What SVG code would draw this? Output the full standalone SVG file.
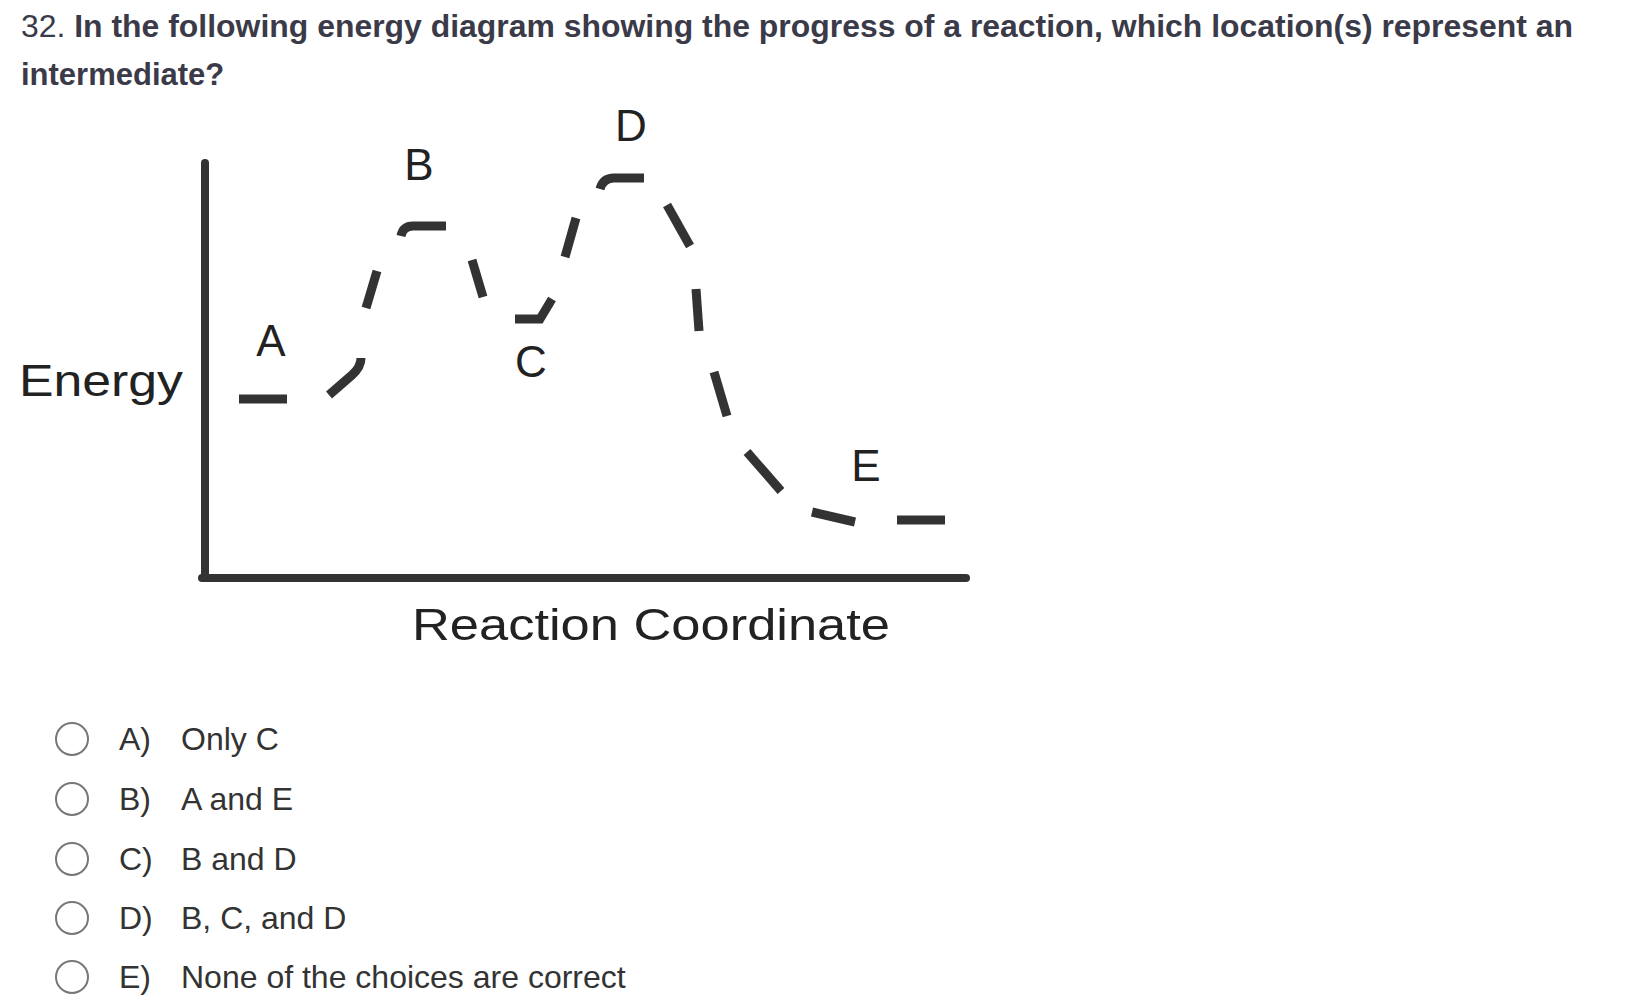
<svg xmlns="http://www.w3.org/2000/svg" width="1646" height="1002" viewBox="0 0 1646 1002">
<style>
.t{font-family:"Liberation Sans",Arial,sans-serif;fill:#333}
.q{font-size:31px;font-weight:bold;fill:#3a3a48}
.lab{font-size:44px;fill:#222}
.opt{font-size:32px}
.d{fill:none;stroke:#333;stroke-width:9;stroke-linecap:butt}
.c{fill:#fff;stroke:#777;stroke-width:2}
</style>
<rect width="1646" height="1002" fill="#fff"/>
<text class="t q" x="21" y="37" textLength="1552" lengthAdjust="spacingAndGlyphs"><tspan font-weight="normal">32. </tspan>In the following energy diagram showing the progress of a reaction, which location(s) represent an</text>
<text class="t q" x="21" y="85">intermediate?</text>
<g id="axes">
<line x1="205" y1="163" x2="205" y2="578" stroke="#333" stroke-width="8" stroke-linecap="round"/>
<line x1="202" y1="578" x2="966" y2="578" stroke="#333" stroke-width="8" stroke-linecap="round"/>
</g>
<g id="curve">
<path class="d" d="M239 399H287"/>
<path class="d" d="M329 395L352 375Q361 367 361 358"/>
<path class="d" d="M366 308L377 271"/>
<path class="d" d="M401 236Q403 226 413 226H446"/>
<path class="d" d="M472 260L483 297"/>
<path class="d" d="M515 319H540L552 299"/>
<path class="d" d="M565 257L576 218"/>
<path class="d" d="M600 189Q603 178 614 178H644"/>
<path class="d" d="M667 205L690 246"/>
<path class="d" d="M696 289L699 331"/>
<path class="d" d="M714 372L727 416"/>
<path class="d" d="M747 452L781 491"/>
<path class="d" d="M812 512L855 522"/>
<path class="d" d="M897 520H945"/>
</g>
<g id="labels">
<text class="t lab" x="19" y="396" font-size="50" textLength="164" lengthAdjust="spacingAndGlyphs">Energy</text>
<text class="t lab" x="412" y="640" font-size="50" textLength="478" lengthAdjust="spacingAndGlyphs">Reaction Coordinate</text>
<text class="t lab" x="271" y="356" text-anchor="middle">A</text>
<text class="t lab" x="419" y="180" text-anchor="middle">B</text>
<text class="t lab" x="531" y="377" text-anchor="middle">C</text>
<text class="t lab" x="631" y="141" text-anchor="middle">D</text>
<text class="t lab" x="866" y="481" text-anchor="middle">E</text>
</g>
<g id="options">
<circle class="c" cx="72" cy="739" r="16"/><text class="t opt" x="119" y="750">A)</text><text class="t opt" x="181" y="750">Only C</text>
<circle class="c" cx="72" cy="799" r="16"/><text class="t opt" x="119" y="810">B)</text><text class="t opt" x="181" y="810">A and E</text>
<circle class="c" cx="72" cy="859" r="16"/><text class="t opt" x="119" y="870">C)</text><text class="t opt" x="181" y="870">B and D</text>
<circle class="c" cx="72" cy="918" r="16"/><text class="t opt" x="119" y="929">D)</text><text class="t opt" x="181" y="929">B, C, and D</text>
<circle class="c" cx="72" cy="977" r="16"/><text class="t opt" x="119" y="988">E)</text><text class="t opt" x="181" y="988">None of the choices are correct</text>
</g>
</svg>
